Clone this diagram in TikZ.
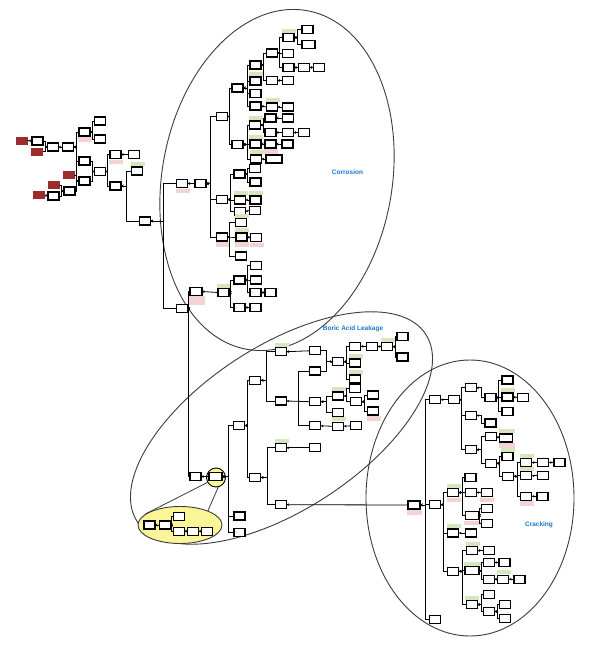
\documentclass[tikz,border=0pt]{standalone}
\usepackage{fontspec}
\newfontfamily\labfont{Liberation Sans}
\usetikzlibrary{arrows.meta,shapes.geometric}
\definecolor{redbox}{RGB}{155,45,45}
\definecolor{glc}{RGB}{214,230,190}
\definecolor{plc}{RGB}{242,212,212}
\definecolor{yel}{RGB}{250,245,150}
\definecolor{ttlblue}{RGB}{25,120,200}
\definecolor{elc}{RGB}{60,60,60}
\newcommand{\bus}[3]{\foreach \kid in {#3}{\draw[ln,arrL] (#1.east) -| (\kid.west -| #2,0) -- (\kid.west);}}
\newcommand{\busL}[3]{\foreach \kid in {#3}{\draw[ln,arrL] (#1.west) -| (\kid.east -| #2,0) -- (\kid.east);}}
\newcommand{\ch}[2]{\draw[ln,arrL] (#1.east) -- (#2.west);}
\newcommand{\chL}[2]{\draw[ln,arrL] (#1.west) -- (#2.east);}
\newcommand{\gl}[1]{\fill[glc] ([shift={(-1pt,1pt)}]#1.north west) rectangle ([shift={(2pt,5pt)}]#1.north east);}
\newcommand{\pl}[1]{\fill[plc] ([shift={(-1pt,-1pt)}]#1.south west) rectangle ([shift={(2pt,-5.5pt)}]#1.south east);}
\begin{document}
\begin{tikzpicture}[x=1pt,y=-1pt,
 bx/.style={draw=black, line width=1.1pt, fill=white, minimum width=11pt, minimum height=8pt, inner sep=0pt, outer sep=0pt},
 rb/.style={draw=redbox, fill=redbox, minimum width=11pt, minimum height=7pt, inner sep=0pt, outer sep=0pt},
 ln/.style={draw=black, line width=0.8pt},
 arrL/.style={arrows={Stealth[length=2.6pt,width=2.6pt]-}},
 bigell/.style={draw=elc, line width=0.9pt},
 ttl/.style={font=\labfont\bfseries\fontsize{6.5}{7}\selectfont, text=ttlblue, inner sep=0pt}]
\useasboundingbox (0,0) rectangle (589,645);
\fill[white] (0,0) rectangle (589,645);
% big ellipses
\draw[bigell, shift={(277pt,-180pt)}, rotate=-10] (0,0) ellipse [x radius=115pt, y radius=172pt];
\draw[bigell, shift={(281.5pt,-428pt)}, rotate=33] (0,0) ellipse [x radius=172pt, y radius=82pt];
\draw[bigell] (470,498) ellipse [x radius=104pt, y radius=138pt];
% yellow zoom
\node[draw=elc, line width=0.9pt, ellipse, fill=yel, minimum width=84pt, minimum height=37pt, inner sep=0pt] (yell) at (180,525) {};
\node[draw=black, line width=0.9pt, circle, fill=yel, minimum size=19pt, inner sep=0pt] (circ) at (216,477.5) {};
\draw[draw=elc, line width=0.8pt] (circ.210) -- (yell.162);
\draw[draw=elc, line width=0.8pt] (circ.283) -- (yell.27);
% titles
\node[ttl] (tc) at (347.5,172.5) {Corrosion};
\node[ttl] (tb) at (353,329) {Boric Acid Leakage};
\node[ttl] (tk) at (539,524.5) {Cracking};
% ---------- left cluster
\node[rb] (r1) at (21.5,140.5) {};
\node[bx] (a1) at (37.5,141) {};
\node[rb] (r2) at (37,151.5) {};
\node[bx] (a2) at (53,147) {};
\node[bx] (a3) at (68,147) {};
\node[bx] (b1) at (84.5,132) {};
\node[bx] (c1) at (100,121) {};
\node[bx] (c2) at (100,139) {};
\node[bx] (b2) at (84.5,161) {};
\node[bx] (b3) at (84.5,181) {};
\node[rb] (r3) at (68.5,175) {};
\node[bx] (f1) at (69.5,191) {};
\node[rb] (r4) at (53.5,185) {};
\node[bx] (g1) at (53.5,196) {};
\node[rb] (r5) at (39,195) {};
\node[bx] (d1) at (100,171.5) {};
\node[bx] (e1) at (115.5,154.5) {};
\node[bx] (e2) at (115.5,186) {};
\node[bx] (h1) at (134,154.5) {};
\node[bx] (i1) at (137,171) {};
\node[bx] (j1) at (145,221) {};
\pl{b1}\pl{e1}\gl{i1}
\chL{a1}{r1}
\busL{a2}{45.5}{a1,r2}
\ch{a2}{a3}
\bus{a3}{76}{b1,b2,b3}
\busL{b3}{76.5}{r3,f1}
\bus{b1}{92}{c1,c2}
\busL{d1}{92}{b2,b3}
\busL{f1}{61}{r4,g1}
\chL{g1}{r5}
\bus{d1}{107}{e1,e2}
\ch{e1}{h1}
\bus{e2}{126}{i1,j1}
% ---------- corrosion
\node[bx] (K) at (182,183.5) {};
\node[bx] (L) at (200.5,183.5) {};
\node[bx, line width=1.5pt] (O) at (182,308.5) {};
\bus{j1}{163}{K,O}
\pl{K}
\ch{K}{L}
\node[bx] (Q) at (222,116.5) {};
\node[bx] (M) at (222,199.5) {};
\node[bx] (N) at (222,237) {};
\pl{N}
\bus{L}{210}{Q,M,N}
\node[bx] (Q1) at (237.5,88) {};
\node[bx] (Q2) at (237.5,144.5) {};
\bus{Q}{229}{Q1,Q2}
\node[bx] (q1a) at (255.5,65) {};
\node[bx] (q1b) at (255.5,81) {};
\node[bx] (q1c) at (255.5,93.5) {};
\node[bx] (q1d) at (255.5,106) {};
\gl{q1b}
\bus{Q1}{247}{q1a,q1b,q1c,q1d}
\node[bx] (q1e) at (272,107) {};
\node[bx] (q1f) at (288,107) {};
\gl{q1e}
\ch{q1d}{q1e}\ch{q1e}{q1f}
\node[bx] (q2a) at (272,53) {};
\node[bx] (q2b) at (272,80.5) {};
\node[bx] (q2c) at (288,80.5) {};
\bus{q1a}{263}{q2a,q2b}
\ch{q2b}{q2c}
\node[bx] (q3a) at (288.5,37.5) {};
\node[bx] (q3b) at (288,53.5) {};
\node[bx] (q3c) at (288.5,67.5) {};
\gl{q3a}
\bus{q2a}{279}{q3a,q3b,q3c}
\node[bx] (q4a) at (307.5,29.5) {};
\node[bx, minimum width=13pt] (q4b) at (308.5,44.5) {};
\bus{q3a}{297}{q4a,q4b}
\node[bx] (q4c) at (304,67.5) {};
\node[bx] (q4d) at (319,67.5) {};
\ch{q3c}{q4c}\ch{q4c}{q4d}
\node[bx] (q5a) at (255,125) {};
\node[bx] (q5b) at (255.5,144) {};
\node[bx] (q5c) at (256,159) {};
\gl{q5a}\gl{q5b}\gl{q5c}
\bus{Q2}{247}{q5a,q5b,q5c}
\node[bx] (q6a) at (270.5,118) {};
\node[bx] (q6c) at (270.5,132.5) {};
\bus{q5a}{263}{q6a,q6c}
\node[bx] (q7a) at (288,118) {};
\ch{q6a}{q7a}
\node[bx] (q7c) at (288,132.5) {};
\node[bx] (q8c) at (304,132.5) {};
\ch{q6c}{q7c}\ch{q7c}{q8c}
\node[bx] (q6b) at (270.5,144) {};
\node[bx] (q7b) at (287.5,144) {};
\pl{q6b}
\ch{q5b}{q6b}\ch{q6b}{q7b}
\node[bx, minimum width=16pt] (q6d) at (274,159) {};
\ch{q5c}{q6d}
\node[bx] (m1) at (239.5,174) {};
\node[bx] (m2) at (240,200) {};
\node[bx] (m3) at (240,211.5) {};
\gl{m2}
\bus{M}{230}{m1,m2,m3}
\node[bx] (m1a) at (255,168.5) {};
\node[bx] (m1b) at (255.5,182) {};
\bus{m1}{247}{m1a,m1b}
\node[bx] (m2a) at (255.5,200) {};
\gl{m2a}
\ch{m2}{m2a}
\node[bx] (m3a) at (255,210.5) {};
\ch{m3}{m3a}
\node[bx] (n1) at (241,222.5) {};
\node[bx] (n2) at (241.5,237) {};
\node[bx] (n3) at (241,256) {};
\gl{n1}\gl{n2}\pl{n2}
\bus{N}{229}{n1,n2,n3}
\node[bx] (n2a) at (256,237.5) {};
\pl{n2a}
\ch{n2}{n2a}
% lower corrosion
\node[bx, minimum width=12pt] (P) at (196,291.5) {};
\node[bx] (S) at (195.5,476.5) {};
\fill[plc] (188,295.5) rectangle (205,305);
\bus{O}{188.5}{P,S}
\node[bx] (R) at (223.5,292.5) {};
\gl{R}
\ch{P}{R}
\node[bx] (rr1) at (239.5,280) {};
\node[bx] (rr2) at (239.5,307.5) {};
\bus{R}{230}{rr1,rr2}
\node[bx] (ra) at (256,265.5) {};
\node[bx] (rb) at (256,280) {};
\node[bx] (rc) at (255.5,292.5) {};
\bus{rr1}{247}{ra,rb,rc}
\node[bx] (rd) at (270.5,292.5) {};
\ch{rc}{rd}
\node[bx] (re) at (255.5,307.5) {};
\ch{rr2}{re}
% ---------- boric acid
\node[bx, minimum width=13pt] (T) at (215.5,476.5) {};
\ch{S}{T}
\node[bx] (U) at (239,425.5) {};
\node[bx] (V) at (239.5,516) {};
\node[bx] (W) at (239.5,532.5) {};
\bus{T}{228}{U,V,W}
\node[bx] (U1) at (255.3,380.3) {};
\node[bx] (U2) at (255.3,477.5) {};
\bus{U}{247}{U1,U2}
\node[bx] (u1a) at (281,351.7) {};
\node[bx] (u1b) at (281,401) {};
\gl{u1a}
\bus{U1}{266.7}{u1a,u1b}
\node[bx] (x1) at (315,350.8) {};
\node[bx] (x2) at (315.3,371) {};
\node[bx] (x3) at (338.3,361.7) {};
\ch{u1a}{x1}
\busL{x3}{326.7}{x1,x2}
\node[bx] (y1) at (355.3,346.3) {};
\node[bx] (y2) at (355.3,363) {};
\node[bx] (y3) at (355.3,379) {};
\gl{y2}\gl{y3}
\bus{x3}{346.7}{y1,y2,y3}
\node[bx] (y1b) at (372,346.3) {};
\node[bx] (y1c) at (387,346.7) {};
\gl{y1c}
\ch{y1}{y1b}\ch{y1b}{y1c}
\node[bx] (z1) at (402.5,336.3) {};
\node[bx] (z2) at (402.5,357) {};
\bus{y1c}{395}{z1,z2}
\node[bx] (x4) at (315.3,425.8) {};
\node[bx] (x5) at (338.3,426.3) {};
\node[bx] (x6) at (355.7,425.8) {};
\gl{x5}
\draw[ln] (x2.west) -| (x4.west -| 298.3,0) -- (x4.west);
\ch{x4}{x5}\ch{x5}{x6}
\node[bx] (x7) at (315.3,401.7) {};
\ch{u1b}{x7}
\node[bx] (x8) at (338.3,396) {};
\node[bx] (x9) at (338.3,412.5) {};
\gl{x8}
\bus{x7}{326.7}{x8,x9}
\node[bx] (y4) at (355.3,388.5) {};
\node[bx] (y5) at (356,401.7) {};
\bus{x8}{346.7}{y4,y5}
\node[bx] (y6) at (372.8,395) {};
\node[bx] (y7) at (373.3,411) {};
\pl{y7}
\bus{y5}{364}{y6,y7}
\node[bx] (u2a) at (281,447.8) {};
\node[bx] (u2b) at (281,504.7) {};
\gl{u2a}
\bus{U2}{267.3}{u2a,u2b}
\node[bx] (u2c) at (315,447.8) {};
\ch{u2a}{u2c}
% yellow inner
\node[bx] (w1) at (149.5,525) {};
\node[bx] (w2) at (164.7,525) {};
\node[bx] (w3) at (178.8,516.8) {};
\node[bx] (w4) at (178.8,531.2) {};
\node[bx] (w5) at (193,531.2) {};
\node[bx] (w6) at (207.2,531.2) {};
\ch{w1}{w2}
\bus{w2}{171.7}{w3,w4}
\ch{w4}{w5}\ch{w5}{w6}
% ---------- cracking
\node[bx, minimum width=12pt] (CR) at (414,505) {};
\pl{CR}
\ch{u2b}{CR}
\node[bx] (c1a) at (435.3,399.7) {};
\node[bx] (c1b) at (435.3,504.7) {};
\node[bx] (c1c) at (435.3,619.2) {};
\bus{CR}{425}{c1a,c1b,c1c}
\node[bx] (c2a) at (453.7,399.7) {};
\ch{c1a}{c2a}
\node[bx] (k1) at (470.8,387.8) {};
\node[bx] (k2) at (470.8,415.5) {};
\node[bx] (k3) at (470.8,449.7) {};
\bus{c2a}{461}{k1,k2,k3}
\node[bx] (k4) at (490.5,397.5) {};
\node[bx] (k5) at (490.5,423) {};
\bus{k1}{481.7}{k4}
\bus{k2}{481.7}{k5}
\node[bx] (k6) at (507.5,380) {};
\node[bx] (k7) at (507.5,397) {};
\node[bx] (k8) at (507.5,411.7) {};
\gl{k7}
\bus{k4}{498.3}{k6,k7,k8}
\node[bx] (k9) at (523.3,397.5) {};
\ch{k7}{k9}
\node[bx] (k10) at (490.8,436.3) {};
\node[bx] (k11) at (490.8,463.3) {};
\bus{k3}{481.7}{k10,k11}
\node[bx, minimum width=13pt] (k12) at (506,438) {};
\gl{k12}\pl{k12}
\ch{k10}{k12}
\node[bx] (k13) at (507.5,456.7) {};
\node[bx] (k14) at (508.3,476.3) {};
\gl{k13}
\bus{k11}{499.3}{k13,k14}
\node[bx] (k15) at (526.2,462.5) {};
\node[bx] (k16) at (526.2,475.8) {};
\node[bx] (k17) at (526.2,496.3) {};
\gl{k15}\gl{k16}\pl{k17}
\bus{k14}{517.3}{k15,k16,k17}
\node[bx] (k18) at (543.3,462.5) {};
\node[bx] (k19) at (559.5,462.5) {};
\ch{k15}{k18}\ch{k18}{k19}
\node[bx] (k20) at (543.3,475.8) {};
\ch{k16}{k20}
\node[bx] (k21) at (542.5,496.3) {};
\ch{k17}{k21}
\node[bx] (p1) at (453,492.5) {};
\node[bx] (p2) at (453.3,533) {};
\node[bx] (p3) at (453.3,571.3) {};
\gl{p1}\pl{p1}\gl{p2}
\bus{c1b}{443.3}{p1,p2,p3}
\node[bx] (p4) at (470.5,477.5) {};
\node[bx] (p5) at (470.8,492.5) {};
\node[bx, minimum width=13pt] (p6) at (471.7,515.5) {};
\pl{p6}
\bus{p1}{462.3}{p4,p5,p6}
\node[bx] (p7) at (486.7,492.5) {};
\pl{p7}
\ch{p5}{p7}
\node[bx] (p8) at (487.2,508.8) {};
\node[bx] (p9) at (487.2,523.3) {};
\bus{p6}{479.3}{p8,p9}
\node[bx] (p10) at (471.2,533) {};
\ch{p2}{p10}
\node[bx] (p11) at (472,550.5) {};
\node[bx, minimum width=14pt] (p12) at (472,570.8) {};
\node[bx] (p13) at (471.7,604.5) {};
\gl{p11}\gl{p12}\gl{p13}
\bus{p3}{462.3}{p11,p12,p13}
\node[bx] (p14) at (488.7,550.5) {};
\ch{p11}{p14}
\node[bx] (p15) at (488.8,562.5) {};
\node[bx] (p16) at (488.8,579.2) {};
\bus{p12}{481}{p15,p16}
\node[bx] (p17) at (504.5,562.5) {};
\ch{p15}{p17}
\node[bx] (p18) at (503.3,579.2) {};
\node[bx] (p19) at (519.5,579.2) {};
\gl{p18}
\ch{p16}{p18}\ch{p18}{p19}
\node[bx] (p20) at (489.2,594.2) {};
\node[bx] (p21) at (488.8,611.5) {};
\bus{p13}{481}{p20,p21}
\node[bx] (p22) at (505.3,604.8) {};
\node[bx] (p23) at (505.3,618.8) {};
\bus{p21}{497.3}{p22,p23}
\end{tikzpicture}
\end{document}
